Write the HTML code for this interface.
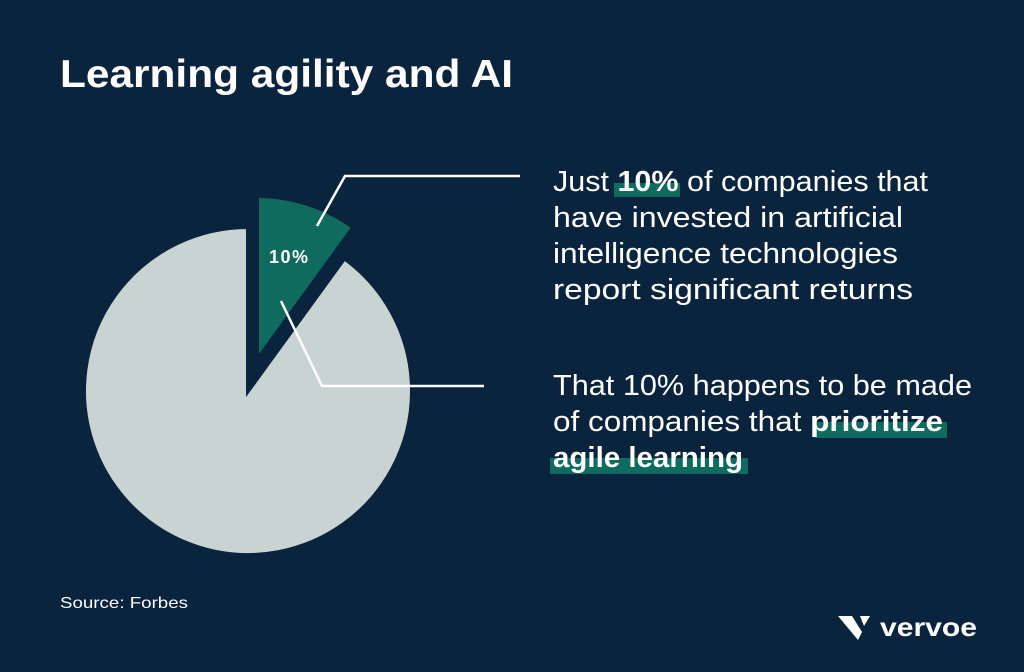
<!DOCTYPE html>
<html><head><meta charset="utf-8"><style>
html,body{margin:0;padding:0;background:#0b243e;}
svg{display:block;font-family:"Liberation Sans",sans-serif;}
</style></head><body>
<svg width="1024" height="672" viewBox="0 0 1024 672">
<rect width="1024" height="672" fill="#0b243e"/>
<text x="60" y="87" font-size="39" font-weight="bold" fill="#fff" textLength="453" lengthAdjust="spacingAndGlyphs">Learning agility and AI</text>
<g id="pie"></g>
<polyline points="317,226 345,176 520,176" fill="none" stroke="#fff" stroke-width="2.5"/>
<polyline points="281,301 322,386 484,386" fill="none" stroke="#fff" stroke-width="2.5"/>
<text x="269" y="263" font-size="18" font-weight="bold" fill="#fff" textLength="39">10%</text>
<rect x="614" y="183" width="66" height="14" fill="#0e6b5e"/>
<rect x="814" y="422" width="133" height="16" fill="#0e6b5e"/>
<rect x="550" y="458" width="198" height="16" fill="#0e6b5e"/>
<g font-size="29" fill="#fff">
<text x="553" y="191" textLength="375" lengthAdjust="spacingAndGlyphs">Just <tspan font-weight="bold">10%</tspan> of companies that</text>
<text x="553" y="227" textLength="350" lengthAdjust="spacingAndGlyphs">have invested in artificial</text>
<text x="553" y="263" textLength="345" lengthAdjust="spacingAndGlyphs">intelligence technologies</text>
<text x="553" y="299" textLength="360" lengthAdjust="spacingAndGlyphs">report significant returns</text>
</g>
<g font-size="29" fill="#fff">
<text x="553" y="395" textLength="419" lengthAdjust="spacingAndGlyphs">That 10% happens to be made</text>
<text x="553" y="431" textLength="390" lengthAdjust="spacingAndGlyphs">of companies that <tspan font-weight="bold">prioritize</tspan></text>
<text x="553" y="467" font-weight="bold" textLength="190" lengthAdjust="spacingAndGlyphs">agile learning</text>
</g>
<text x="60" y="608" font-size="16" fill="#fff" textLength="128" lengthAdjust="spacingAndGlyphs">Source: Forbes</text>
<g>
<polygon points="838,616 852,616 862,632 858,640" fill="#fff"/>
<polygon points="860,616 870,616 864,626" fill="#fff"/>
<text x="880" y="636" font-size="26" font-weight="bold" fill="#fff" textLength="97" lengthAdjust="spacingAndGlyphs">vervoe</text>
</g>
</svg>
<script>
const categories = ["Significant returns", "Other"];
const values = [10, 90];
const cx = 248, cy = 391, r = 164;
const explode = [[9, -31], [0, 0]];
const colors = ["#0e6b5e", "#c8d4d2"];
const g = document.getElementById('pie');
const total = values.reduce((a, b) => a + b, 0);
let start = 0;
values.forEach((v, i) => {
  const a0 = start / total * 2 * Math.PI, a1 = (start + v) / total * 2 * Math.PI;
  start += v;
  const ox = cx + explode[i][0], oy = cy + explode[i][1];
  const x0 = ox + r * Math.sin(a0), y0 = oy - r * Math.cos(a0);
  const x1 = ox + r * Math.sin(a1), y1 = oy - r * Math.cos(a1);
  const large = (a1 - a0) > Math.PI ? 1 : 0;
  const p = document.createElementNS('http://www.w3.org/2000/svg', 'path');
  p.setAttribute('d', `M${ox},${oy} L${x0},${y0} A${r},${r} 0 ${large} 1 ${x1},${y1} Z`);
  p.setAttribute('fill', colors[i]);
  p.setAttribute('stroke', '#0b243e');
  p.setAttribute('stroke-width', '4');
  
  
  g.appendChild(p);
});
</script>
</body></html>
